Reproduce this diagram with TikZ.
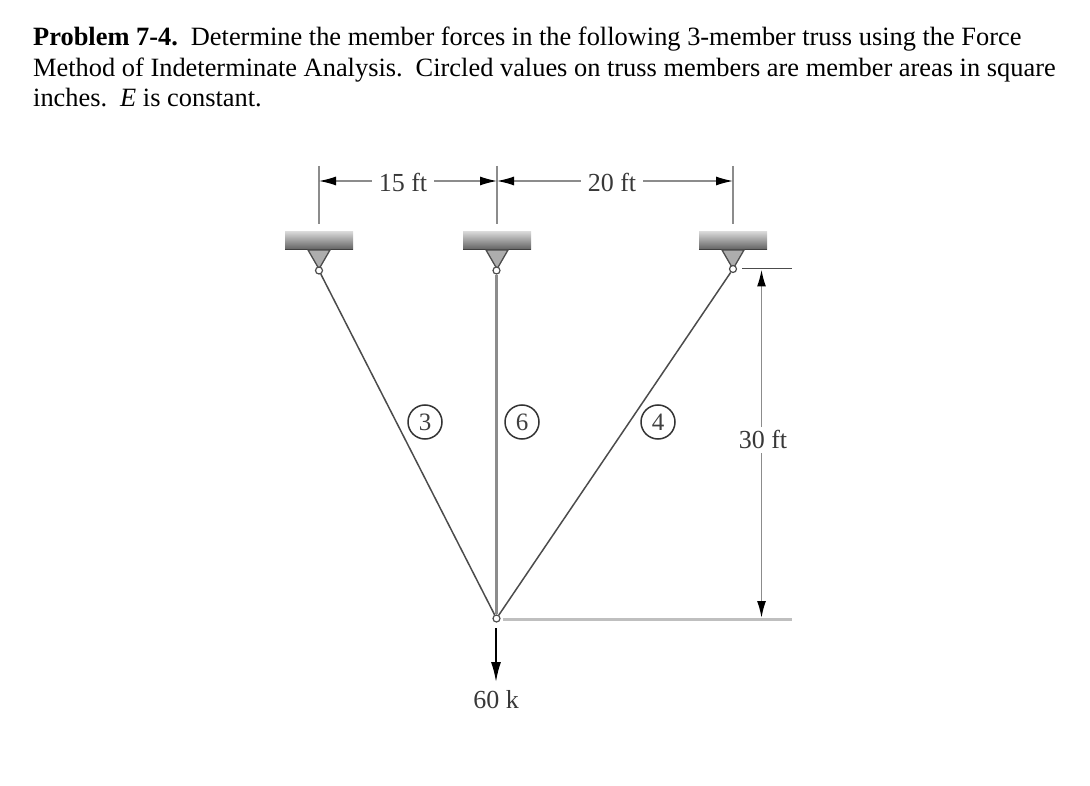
\documentclass[tikz,border=0pt]{standalone}
\usepackage{fontspec}
\setmainfont{Liberation Serif}
\usetikzlibrary{arrows.meta}
\definecolor{dimgray}{gray}{0.55}
\definecolor{member}{gray}{0.3}
\tikzset{
  x=1pt,y=-1pt,
  label/.style={font=\fontsize{26}{26}\selectfont,text=black!78,inner sep=0pt},
  para/.style={font=\fontsize{26.4}{30.6}\selectfont,inner sep=0pt,anchor=north west,align=left,text=black},
  pin/.style={circle,draw=member,fill=white,line width=1.2pt,minimum size=7pt,inner sep=0pt},
  area/.style={circle,draw=black!80,line width=1.5pt,minimum size=34pt,inner sep=0pt,font=\fontsize{25}{25}\selectfont,text=black!75},
  memberline/.style={draw=member,line width=1.5pt},
  postline/.style={draw=dimgray,line width=2.2pt},
  dimline/.style={draw=dimgray,line width=1.3pt},
  tickline/.style={draw=dimgray,line width=1.8pt},
  dimtip/.style={-{Latex[length=17pt,width=9pt,black]}},
  bar/.style={top color=white!85!black,bottom color=black!62,draw=none,minimum width=68pt,minimum height=18pt,inner sep=0pt},
  lug/.style={draw=black!70,fill=black!32,line width=1.3pt},
}
\begin{document}
\begin{tikzpicture}
\useasboundingbox (0,0) rectangle (1090,786);
\node[para] (title) at (33,27) {\textbf{Problem 7-4.}\hspace{13pt}Determine the member forces in the following 3-member truss using the Force\\Method of Indeterminate Analysis.\hspace{13pt}Circled values on truss members are member areas in square\\inches.\hspace{13pt}\textit{E} is constant.};

% supports
\foreach \n/\x in {L/319,M/497,R/733}{
  \node[bar] (bar\n) at (\x,240.5) {};
  \draw[black!75,line width=1.4pt] (bar\n.south west) -- (bar\n.south east);
  \draw[lug] (\x-11,250) -- (\x+11,250) -- (\x,269) -- cycle;
  \coordinate (tickTop\n) at (\x,166);
  \coordinate (tickBot\n) at (\x,224);
  \draw[tickline] (tickTop\n) -- (tickBot\n);
}
\node[pin] (pinL) at (319,270.5) {};
\node[pin] (pinM) at (496.5,270.5) {};
\node[pin] (pinR) at (733,269) {};
\node[pin] (pinB) at (496.5,618.5) {};

% members
\draw[memberline] (pinL) -- (pinB);
\draw[postline] (pinM) -- (pinB);
\draw[memberline] (pinR) -- (pinB);

% area labels
\node[area] (a3) at (425,422) {3};
\node[area] (a6) at (522,422) {6};
\node[area] (a4) at (658,422) {4};

% horizontal dimensions
\node[label] (d15) at (403,182) {15 ft};
\node[label] (d20) at (612,182) {20 ft};
\coordinate (dL) at (319,181);
\coordinate (dM) at (497,181);
\coordinate (dR) at (733,181);
\draw[dimline,dimtip] (d15.west) ++(-7,-1) -- (dL);
\draw[dimline,dimtip] (d15.east) ++(7,-1) -- (dM);
\draw[dimline,dimtip] (d20.west) ++(-7,-1) -- (dM);
\draw[dimline,dimtip] (d20.east) ++(7,-1) -- (dR);

% vertical dimension
\coordinate (tTop1) at (742,268.5);
\coordinate (tTop2) at (792,268.5);
\draw[draw=black!70,line width=1.3pt] (tTop1) -- (tTop2);
\coordinate (tBot1) at (503,619);
\coordinate (tBot2) at (792,619);
\draw[draw=black!25,line width=3pt] (tBot1) -- (tBot2);
\node[label] (d30) at (763,439) {30 ft};
\coordinate (aTop) at (761.5,269.5);
\coordinate (aBot) at (761.5,618);
\coordinate (gapTop) at (761.5,427);
\coordinate (gapBot) at (761.5,453);
\draw[tickline,dimtip] (gapTop) -- (aTop);
\draw[tickline,dimtip] (gapBot) -- (aBot);

% load
\node[label] (load) at (496,700) {60 k};
\coordinate (loadTop) at (496,628);
\coordinate (loadTip) at (496,682);
\draw[draw=black,line width=1.8pt,-{Latex[length=20pt,width=10pt,black]}] (loadTop) -- (loadTip);
\end{tikzpicture}
\end{document}
